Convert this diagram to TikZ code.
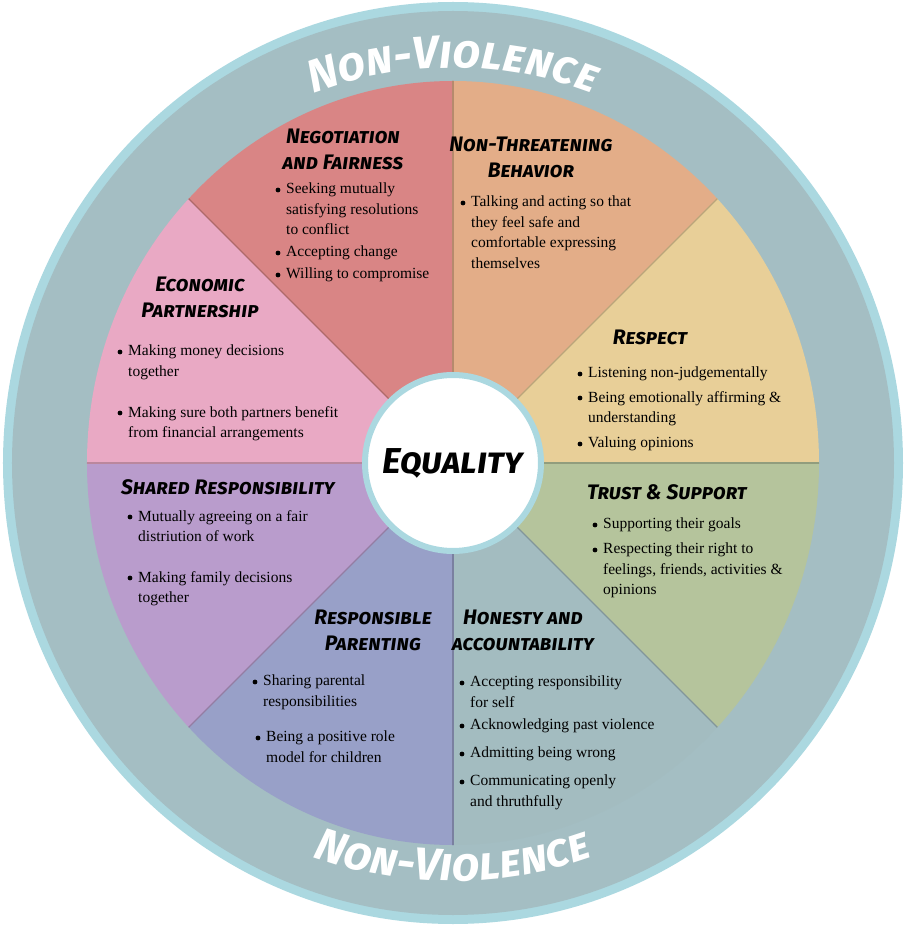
\documentclass[tikz,border=0pt]{standalone}
\usepackage{fontspec}
\setmainfont{Liberation Serif}
\newfontfamily\hdfont[Letters=SmallCaps]{Fira Sans Bold Italic}
\usetikzlibrary{decorations.text,calc}
\definecolor{cNeg}{HTML}{D98585}
\definecolor{cNon}{HTML}{E3AD88}
\definecolor{cRes}{HTML}{E8CF98}
\definecolor{cTru}{HTML}{B5C49C}
\definecolor{cHon}{HTML}{A3BCC0}
\definecolor{cPar}{HTML}{98A0C8}
\definecolor{cSha}{HTML}{B99CCC}
\definecolor{cEco}{HTML}{E9A9C4}
\definecolor{ring}{HTML}{A4BEC3}
\definecolor{lblue}{HTML}{ABD8E0}
\tikzset{
 txt/.style={anchor=north west,inner sep=0,align=left,font=\fontsize{15.5}{20.5}\selectfont},
 hd/.style={inner sep=0,font=\hdfont\fontsize{21}{28}\selectfont,align=center},
}
\newcommand\bp[3]{\fill (#1,#2) circle(2.4); \node[txt] at ($(#1,#2)+(8,7)$) {#3};}
\begin{document}
\begin{tikzpicture}[x=1pt,y=1pt]
\useasboundingbox (-453,-463) rectangle (451,463);
\fill[lblue] (0,0) ellipse[x radius=450,y radius=461];
\fill[ring] (0,0) ellipse[x radius=441,y radius=452];
\begin{scope}
\clip (0,0) ellipse[x radius=366,y radius=382];
\foreach \a/\c in {135/cNeg,90/cNon,45/cRes,0/cTru,-45/cHon,-90/cPar,-135/cSha,180/cEco}{
 \fill[\c] (0,0) -- (\a:900) -- (\a-22.5:900) -- (\a-45:900) -- cycle;
}
\foreach \a/\c in {135/cNeg,90/cNon,45/cRes,0/cTru,-45/cHon,-90/cPar,-135/cSha,180/cEco}{
 \draw[\c!80!black,line width=1.2] (0,0) -- (\a:900);
}
\end{scope}
\node[circle,fill=white,draw=lblue,line width=6,minimum size=176] (eq) at (0,0) {};
\node[hd,font=\hdfont\fontsize{36}{40}\selectfont] (eqt) at (0,0) {Equality};
\path[decorate,decoration={text along path,text align=center,
 text={|\hdfont\fontsize{46}{46}\selectfont\color{white}|Non-Violence}}]
 (150:395) arc[start angle=150,end angle=30,radius=395];
\path[decorate,decoration={text along path,text align=center,
 text={|\hdfont\fontsize{46}{46}\selectfont\color{white}|Non-Violence}}]
 (210:418) arc[start angle=210,end angle=330,radius=418];
\node[hd] (h1) at (-110,314) {Negotiation\\[-2pt]and Fairness};
\node[hd] (h2) at (78,306) {Non-Threatening\\[-2pt]Behavior};
\node[hd] (h3) at (197,126) {Respect};
\node[hd] (h4) at (214,-29) {Trust \& Support};
\node[hd] (h5) at (70,-167) {Honesty and\\[-2pt]accountability};
\node[hd] (h6) at (-80,-167) {Responsible\\[-2pt]Parenting};
\node[hd] (h7) at (-225,-24) {Shared Responsibility};
\node[hd] (h8) at (-253,166) {Economic\\[-2pt]Partnership};
\bp{-175}{273}{Seeking mutually\\satisfying resolutions\\to conflict}
\bp{-175}{210}{Accepting change}
\bp{-175}{188}{Willing to compromise}
\bp{10}{260}{Talking and acting so that\\they feel safe and\\comfortable expressing\\themselves}
\bp{127}{89}{Listening non-judgementally}
\bp{127}{65}{Being emotionally affirming \&\\understanding}
\bp{127}{19}{Valuing opinions}
\bp{142}{-62}{Supporting their goals}
\bp{142}{-87}{Respecting their right to\\feelings, friends, activities \&\\opinions}
\bp{9}{-220}{Accepting responsibility\\for self}
\bp{9}{-263}{Acknowledging past violence}
\bp{9}{-291}{Admitting being wrong}
\bp{9}{-319}{Communicating openly\\and thruthfully}
\bp{-198}{-219}{Sharing parental\\responsibilities}
\bp{-195}{-275}{Being a positive role\\model for children}
\bp{-323}{-54}{Mutually agreeing on a fair\\distriution of work}
\bp{-323}{-115}{Making family decisions\\together}
\bp{-333}{111}{Making money decisions\\together}
\bp{-333}{50}{Making sure both partners benefit\\from financial arrangements}
\end{tikzpicture}
\end{document}
